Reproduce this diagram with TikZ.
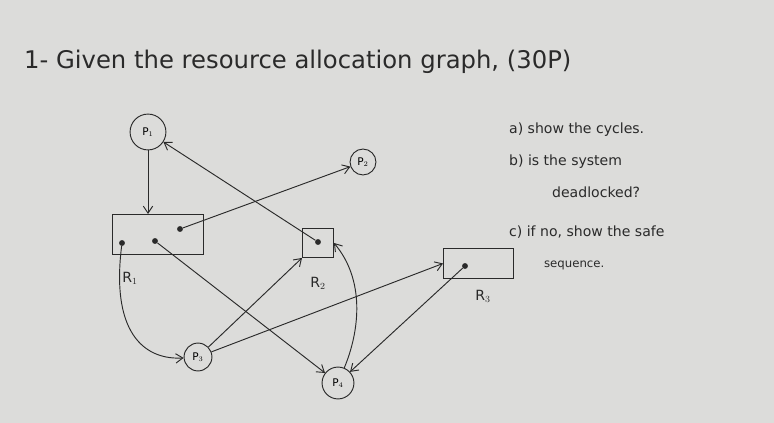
\documentclass[tikz,border=0pt]{standalone}
\usepackage{fontspec}
\setmainfont{DejaVu Sans}
\usetikzlibrary{arrows.meta}
\definecolor{paper}{HTML}{DCDCDA}
\definecolor{ink}{HTML}{2A2A2A}
\begin{document}
\begin{tikzpicture}[x=0.03cm,y=-0.03cm,
  proc/.style={circle,draw=ink,thick,inner sep=0pt,font=\small},
  res/.style={draw=ink,thick,inner sep=0pt,anchor=north west},
  dotn/.style={circle,fill=ink,inner sep=0pt,minimum size=5pt},
  arr/.style={draw=ink,thick,-{Straight Barb[length=6pt,width=8pt]}},
  lbl/.style={text=ink,font=\large},
  note/.style={text=ink,anchor=west,font=\large}]
\fill[paper] (0,0) rectangle (774,423);
\useasboundingbox (0,0) rectangle (774,423);
\node[lbl,anchor=west,font=\huge] (title) at (20,62) {1- Given the resource allocation graph, (30P)};
\node[proc,minimum size=36pt*0.85] (P1) at (148,132) {P$_1$};
\node[proc,minimum size=26pt*0.85] (P2) at (363,162) {P$_2$};
\node[proc,minimum size=28pt*0.85] (P3) at (198,357) {P$_3$};
\node[proc,minimum size=32pt*0.85] (P4) at (338,383) {P$_4$};
\node[res,minimum width=91*0.03cm,minimum height=40*0.03cm] (R1) at (112,214) {};
\node[res,minimum width=31*0.03cm,minimum height=29*0.03cm] (R2) at (302,228) {};
\node[res,minimum width=70*0.03cm,minimum height=30*0.03cm] (R3) at (443,248) {};
\node[dotn] (d1) at (122,243) {};
\node[dotn] (d2) at (155,241) {};
\node[dotn] (d3) at (180,229) {};
\node[dotn] (d4) at (318,242) {};
\node[dotn] (d5) at (465,266) {};
\node[lbl] (l1) at (130,278) {R$_1$};
\node[lbl] (l2) at (318,283) {R$_2$};
\node[lbl] (l3) at (483,296) {R$_3$};
\node[note] (a) at (505,130) {a) show the cycles.};
\node[note] (b) at (505,162) {b) is the system};
\node[note] (b2) at (548,192) {deadlocked?};
\node[note] (c) at (505,232) {c) if no, show the safe};
\node[note,font=\normalsize] (c2) at (540,265) {sequence.};
\draw[arr] (P1) -- (R1.north -| P1);
\draw[arr] (d3) -- (P2);
\draw[arr] (d4) -- (P1);
\draw[arr] (d2) -- (P4);
\draw[arr] (d1) .. controls (110,340) and (150,360) .. (P3);
\draw[arr] (P3) -- (R2.south west);
\draw[arr] (P3) -- (R3.west);
\draw[arr] (P4) .. controls (360,330) and (365,280) .. (R2.east);
\draw[arr] (d5) -- (P4);
\end{tikzpicture}
\end{document}
